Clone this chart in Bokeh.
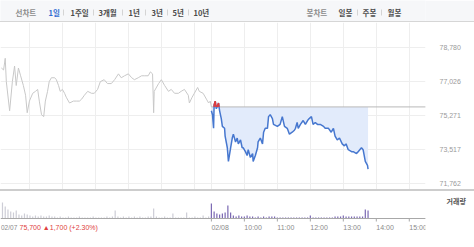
import math
from bokeh.plotting import figure
from bokeh.models import Range1d, FixedTicker, NumeralTickFormatter, Div
from bokeh.layouts import column
from bokeh.embed import file_html
from bokeh.resources import INLINE
from bokeh.core.properties import value

# ---------------- data ----------------
prev_close = 75700
change = 1700
day1_label = "02/07"
day2_label = "02/08"

day1_times = ["09:08", "09:12", "09:15", "09:17", "09:23", "09:28", "09:32", "09:35", "09:39", "09:43",
              "09:48", "09:52", "09:55", "09:59", "10:05", "10:10", "10:14", "10:17", "10:21", "10:25",
              "10:28", "10:32", "10:35", "10:39", "10:45", "10:48", "10:52", "10:55", "10:59", "11:03",
              "11:06", "11:12", "11:19", "11:25", "11:30", "11:34", "11:39", "11:45", "11:52", "11:57",
              "12:03", "12:08", "12:15", "12:21", "12:28", "12:34", "12:41", "12:46", "12:52", "12:59",
              "13:05", "13:10", "13:17", "13:23", "13:28", "13:35", "13:39", "13:43", "13:45", "13:46",
              "13:54", "13:59", "14:05", "14:12", "14:17", "14:23", "14:30", "14:35", "14:41", "14:48",
              "14:50", "14:55", "14:59", "15:05", "15:08", "15:15", "15:21", "15:25", "15:28", "15:30"]
day1_prices = [77700, 77600, 78200, 77000, 75500, 77000, 77800, 76800, 77700, 77300,
               76800, 76300, 75400, 76000, 76400, 76500, 76600, 76000, 75300, 75200,
               76000, 76500, 77000, 77200, 77200, 77100, 76800, 76500, 76600, 76400,
               76200, 75900, 76000, 76000, 76000, 76100, 76300, 76500, 76400, 76400,
               76600, 77000, 77100, 76900, 76900, 77100, 77400, 77200, 77300, 77400,
               77200, 77100, 77200, 77300, 77300, 77300, 77500, 77400, 75400, 76500,
               76900, 77100, 76800, 76500, 76600, 76400, 76400, 76500, 76600, 76300,
               75900, 76200, 76400, 76700, 76500, 76400, 76100, 75900, 76000, 75700]

day2_times = ["09:00", "09:02", "09:04", "09:05", "09:07", "09:09", "09:13", "09:15", "09:18", "09:20",
              "09:24", "09:25", "09:29", "09:31", "09:35", "09:38", "09:40", "09:44", "09:47", "09:49",
              "09:53", "09:56", "09:58", "10:02", "10:05", "10:07", "10:11", "10:15", "10:16", "10:20",
              "10:24", "10:25", "10:29", "10:33", "10:35", "10:38", "10:42", "10:44", "10:47", "10:51",
              "10:53", "11:00", "11:05", "11:09", "11:13", "11:18", "11:22", "11:27", "11:31", "11:33",
              "11:36", "11:38", "11:42", "11:47", "11:51", "11:55", "11:58", "12:02", "12:05", "12:09",
              "12:13", "12:18", "12:24", "12:27", "12:33", "12:38", "12:42", "12:45", "12:49", "12:53",
              "12:58", "13:02", "13:05", "13:09", "13:15", "13:18", "13:24", "13:27", "13:33", "13:36",
              "13:40", "13:44", "13:45"]
day2_prices = [75500, 75300, 74600, 75800, 76000, 75600, 75900, 75500, 75100, 74700,
               74600, 74200, 73600, 72900, 73600, 74100, 74300, 73900, 74100, 73800,
               74000, 73600, 73600, 73400, 73200, 73500, 73100, 73300, 72900, 73200,
               73600, 73900, 74100, 73800, 74400, 74600, 74600, 75200, 75300, 75100,
               74800, 74700, 74800, 75200, 74700, 74600, 74300, 74400, 74500, 74600,
               74900, 74600, 74800, 75000, 74800, 75000, 75100, 75200, 74800, 74900,
               74800, 74800, 74700, 74600, 74600, 74400, 74600, 74200, 74000, 74100,
               73800, 73700, 73800, 73500, 73400, 73400, 73300, 73400, 73600, 73500,
               72900, 72700, 72500]

# volume, thousand shares, minutes after 09:00
vol1_minutes = [10, 15, 20, 25, 30, 35, 40, 45, 50, 55, 60, 65, 70, 75, 80, 85, 90, 95, 100, 105,
                110, 115, 120, 125, 130, 135, 140, 145, 150, 155, 160, 165, 170, 175, 180, 185, 190, 195,
                200, 205, 210, 215, 220, 225, 230, 235, 240, 245, 250, 255, 260, 265, 270, 275, 280, 285,
                290, 295, 300, 305, 310, 315, 320, 325, 330, 335, 340, 345, 350, 355, 360, 365, 370, 375,
                380, 385, 390]
vol1 = [400, 300, 225, 175, 150, 200, 100, 75, 125, 100, 75, 50, 75, 50, 75, 50, 50, 75, 50, 50,
        25, 50, 25, 25, 50, 25, 25, 25, 50, 25, 25, 25, 25, 50, 25, 25, 25, 25,
        50, 25, 50, 200, 50, 25, 50, 25, 50, 25, 50, 25, 50, 25, 25, 50, 50, 250,
        50, 25, 25, 50, 25, 25, 125, 25, 25, 25, 25, 150, 25, 25, 50, 25, 25, 75,
        25, 50, 50]
vol2_minutes = [0, 5, 10, 15, 20, 25, 30, 35, 40, 45, 50, 55, 60, 65, 70, 75, 80, 85, 90, 95,
                100, 105, 110, 115, 120, 125, 130, 135, 140, 145, 150, 155, 160, 165, 170, 175, 180, 185,
                190, 195, 200, 205, 210, 215, 220, 225, 230, 235, 240, 245, 250, 255, 260, 265, 270, 275,
                280, 285]
vol2 = [375, 175, 125, 100, 125, 150, 325, 150, 75, 50, 75, 50, 50, 75, 50, 50, 25, 50, 25, 50,
        25, 50, 50, 50, 25, 25, 25, 25, 25, 25, 25, 25, 25, 25, 25, 25, 75, 25,
        25, 25, 25, 25, 25, 25, 25, 50, 50, 50, 75, 50, 50, 50, 50, 50, 50, 50,
        225, 200]

y_ticks = [71762, 73517, 75271, 77026, 78780]
hour_labels = ["10:00", "11:00", "12:00", "13:00", "14:00", "15:00"]
period_labels = ["선차트", "1일", "1주일", "3개월", "1년", "3년", "5년", "10년"]
candle_labels = ["봉차트", "일봉", "주봉", "월봉"]
volume_title = "거래량"

# ---------------- helpers ----------------
SESSION = 390  # minutes 09:00-15:30


def to_min(t):
    h, m = t.split(":")
    return (int(h) - 9) * 60 + int(m)


day1_x = [to_min(t) for t in day1_times]
day2_x = [SESSION + to_min(t) for t in day2_times]
vol1_x = list(vol1_minutes)
vol2_x = [SESSION + m for m in vol2_minutes]

X0, X1 = 6.4, 779.5
PX = 0.55  # pixels per minute


def px2min(px):
    return X0 + px / PX


W = 474
RB = 49          # right border (y labels); all frames in the column share it
FW = W - RB      # frame width
NUM_FONT = "Liberation Sans"
KR_FONT = "Noto Sans CJK KR"


def bare(fig):
    fig.min_border_left = 0
    fig.min_border_right = RB
    fig.min_border_top = 0
    fig.min_border_bottom = 0
    fig.outline_line_color = None


# ---------------- toolbar ----------------
TBH = 21
tb = figure(width=W, height=TBH, x_range=Range1d(0, FW), y_range=Range1d(TBH, 0),
            toolbar_location=None, output_backend="svg", x_axis_location=None,
            y_axis_location=None)
bare(tb)
tb.grid.visible = False
tb.background_fill_color = "#f6f7f9"
tb.border_fill_color = "#f6f7f9"
period_x = [15, 48, 70, 98, 128, 151, 172, 193]
period_colors = ["#8c8c8c", "#2f6bd1", "#4a4a4a", "#4a4a4a", "#4a4a4a", "#4a4a4a", "#4a4a4a", "#4a4a4a"]
tb.text(x=period_x, y=[11.5] * len(period_x), text=period_labels, text_color=period_colors,
        text_font=value(KR_FONT), text_font_size="7.5px", text_font_style="bold",
        text_baseline="middle", text_align="left")
candle_x = [306, 338, 362, 387]
candle_colors = ["#8c8c8c", "#4a4a4a", "#4a4a4a", "#4a4a4a"]
tb.text(x=candle_x, y=[11.5] * 4, text=candle_labels, text_color=candle_colors,
        text_font=value(KR_FONT), text_font_size="7.5px", text_font_style="bold",
        text_baseline="middle", text_align="left")
sep_x = [63, 93, 122, 145, 167, 188, 357, 381]
tb.segment(x0=sep_x, y0=[9] * len(sep_x), x1=sep_x, y1=[15] * len(sep_x), line_color="#d4d4d4")
tb_line = Div(width=W, height=1, margin=0, styles={"background-color": "#d6d6d6"})

# ---------------- price chart ----------------
xr = Range1d(X0, X1)
p = figure(width=W, height=167, x_range=xr, y_range=Range1d(71454, 80040),
           y_axis_location="right", x_axis_location=None,
           toolbar_location=None, output_backend="svg")
bare(p)
grid_ticks = [60, 120, 180, 240, 300, 360, SESSION] + [SESSION + 60 * k for k in range(1, 7)]
p.xgrid.ticker = FixedTicker(ticks=grid_ticks)
p.xgrid.grid_line_color = "#eeeeee"
p.ygrid.grid_line_color = "#eeeeee"
p.yaxis.ticker = FixedTicker(ticks=y_ticks)
p.yaxis.formatter = NumeralTickFormatter(format="0,0")
p.yaxis.axis_line_color = None
p.yaxis.major_tick_line_color = None
p.yaxis.minor_tick_line_color = None
p.yaxis.major_label_text_color = "#9a9a9a"
p.yaxis.major_label_text_font = NUM_FONT
p.yaxis.major_label_text_font_size = "7px"
p.yaxis.major_label_standoff = 8

p.line(day1_x, day1_prices, line_color="#c8c8c8", line_width=1)
p.varea(x=day2_x, y1=[min(v, prev_close) for v in day2_prices], y2=[prev_close] * len(day2_x),
        fill_color="#e2ebfb")
p.line([SESSION, 2 * SESSION], [prev_close, prev_close], line_color="#b8b8b8", line_width=1)
p.line(day2_x, day2_prices, line_color="#4677cf", line_width=1.5)

# red parts above previous close
rx, ry = [], []
for i in range(len(day2_x)):
    if i > 0:
        a, b = day2_prices[i - 1], day2_prices[i]
        if (a - prev_close) * (b - prev_close) < 0:
            t = (prev_close - a) / (b - a)
            rx.append(day2_x[i - 1] + t * (day2_x[i] - day2_x[i - 1]))
            ry.append(prev_close)
            if b < prev_close:
                rx.append(math.nan)
                ry.append(math.nan)
    if day2_prices[i] >= prev_close:
        rx.append(day2_x[i])
        ry.append(day2_prices[i])
p.line(rx, ry, line_color="#e03a3a", line_width=1.5)

sep = Div(width=W, height=2, margin=0, styles={"background-color": "#cdcdcd"})

# ---------------- volume ----------------
per_px = 25.0  # thousand shares per pixel
v = figure(width=W, height=56, x_range=xr,
           y_range=Range1d(-29 * per_px, 27 * per_px),
           x_axis_location=None, y_axis_location="right",
           toolbar_location=None, output_backend="svg")
bare(v)
v.grid.visible = False
v.vbar(x=vol1_x, top=vol1, width=2.2, fill_color="#cdcdd6", line_color=None)
v.vbar(x=vol2_x, top=vol2, width=2.2, fill_color="#7b69b3", line_color=None)
# the panel title sits in the right margin as the only right-axis label
title_y = 18 * per_px
v.yaxis.ticker = FixedTicker(ticks=[title_y])
v.yaxis.major_label_overrides = {title_y: volume_title}
v.yaxis.axis_line_color = None
v.yaxis.major_tick_line_color = None
v.yaxis.minor_tick_line_color = None
v.yaxis.major_label_text_color = "#555555"
v.yaxis.major_label_text_font = KR_FONT
v.yaxis.major_label_text_font_size = "7px"
v.yaxis.major_label_text_font_style = "bold"
v.yaxis.major_label_standoff = 15
# time axis
v.line([X0, 2 * SESSION], [0, 0], line_color="#a8a8a8", line_width=1)
axis_ticks = [SESSION + 60 * k for k in range(0, 7)]
v.segment(x0=axis_ticks, y0=[0] * 7, x1=axis_ticks, y1=[-3 * per_px] * 7, line_color="#a8a8a8")
y_lab = -9 * per_px
v.text(x=axis_ticks, y=[y_lab] * 7, text=[day2_label] + hour_labels, text_color="#8a8a8a",
       text_font=value(NUM_FONT), text_font_size="7px", text_baseline="middle", text_align="left")
pct = change / (prev_close - change) * 100
v.text(x=[px2min(0.5)], y=[y_lab], text=[day1_label], text_color="#8a8a8a", text_font=value(NUM_FONT),
       text_font_size="6.5px", text_baseline="middle", text_align="left")
v.text(x=[px2min(19)], y=[y_lab], text=[f"{prev_close:,} ▲{change:,} (+{pct:.2f}%)"],
       text_color="#e04040", text_font=value(NUM_FONT), text_font_size="7px",
       text_baseline="middle", text_align="left")

layout = column(tb, tb_line, p, sep, v, spacing=0)
open("out.html", "w").write(file_html(layout, INLINE))
